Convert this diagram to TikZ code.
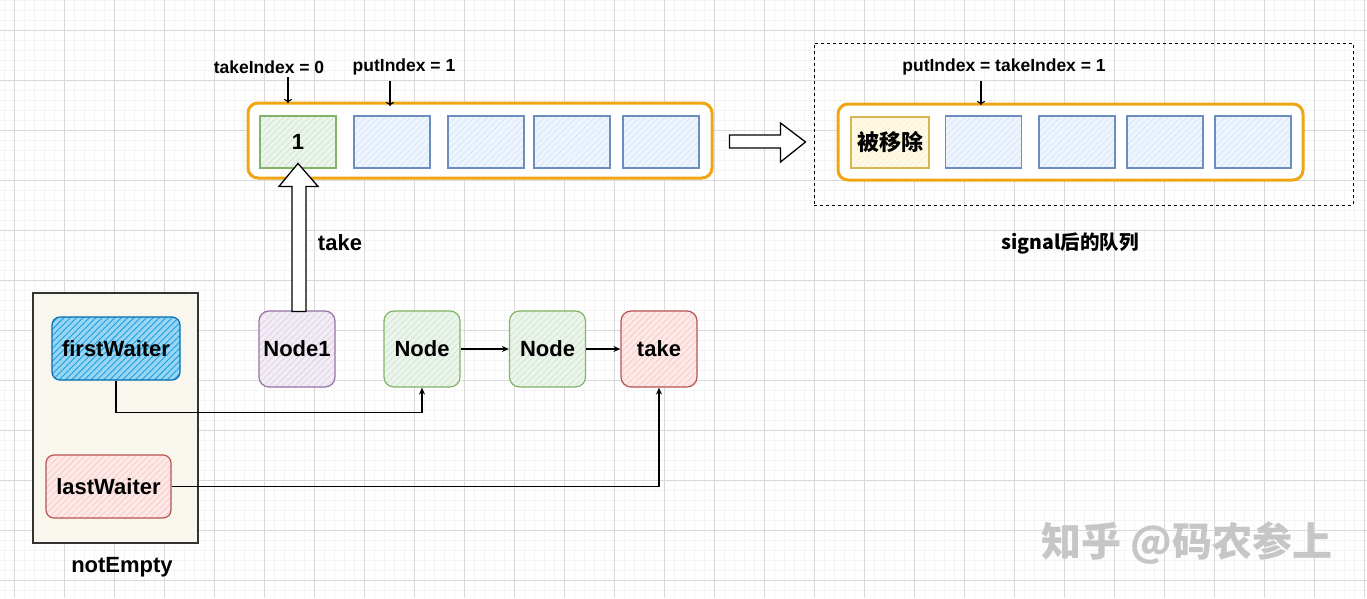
\documentclass[tikz,border=0pt]{standalone}
\usepackage{fontspec}
\setmainfont{Liberation Sans}
\newfontfamily\cjk{Noto Sans CJK SC}
\usetikzlibrary{calc,patterns.meta,arrows.meta}

\definecolor{qorange}{RGB}{240,166,20}
\definecolor{gfill}{HTML}{D5E8D4}
\definecolor{gline}{HTML}{82B366}
\definecolor{bfill}{HTML}{DAE8FC}
\definecolor{bline}{HTML}{6C8EBF}
\definecolor{yfill}{HTML}{FFF2CC}
\definecolor{yline}{HTML}{D6B656}
\definecolor{pfill}{HTML}{E1D5E7}
\definecolor{pline}{HTML}{9673A6}
\definecolor{rfill}{HTML}{F8CECC}
\definecolor{rline}{HTML}{B85450}
\definecolor{wfill}{HTML}{1BA1E2}
\definecolor{wline}{HTML}{006EAF}
\definecolor{nfill}{HTML}{F9F7ED}

\tikzset{
  hatch/.style 2 args={draw=#1, line width=1.2pt, preaction={fill=#2!45!white},
    pattern={Lines[angle=45,distance=4.5pt,line width=0.9pt]}, pattern color=#2},
  cell/.style={minimum width=76pt, minimum height=52pt, inner sep=0pt},
  listnode/.style={minimum width=76pt, minimum height=76pt, rounded corners=10pt, inner sep=0pt},
  waiter/.style={minimum height=63pt, rounded corners=8pt, inner sep=0pt},
  queue/.style={draw=qorange, line width=3pt, rounded corners=10pt, fill=white, inner sep=0pt},
  idxtext/.style={font=\bfseries\fontsize{17.5}{20}\selectfont, inner sep=0.75pt},
  boxtext/.style={font=\bfseries\fontsize{22}{26}\selectfont, inner sep=0.75pt},
  link/.style={line width=1.5pt, -{Stealth[length=7pt,width=6pt,open]}},
  pointer/.style={line width=1.2pt, -{To[length=4pt,width=8pt]}},
  blockarrow/.style={draw, line width=1.3pt, fill=white, line join=miter},
  minorgrid/.style={draw=gray!9, line width=0.6pt},
  majorgrid/.style={draw=gray!30, line width=0.8pt}
}

\begin{document}
\begin{tikzpicture}[x=1pt,y=1pt,yscale=-1,xscale=1]
\useasboundingbox (0,0) rectangle (1367,598);
\fill[white] (0,0) rectangle (1367,598);
% grid
\foreach \x in {4,14,...,1364} \draw[minorgrid] (\x,0) -- (\x,598);
\foreach \y in {0,10,...,590} \draw[minorgrid] (0,\y) -- (1367,\y);
\foreach \x in {14,64,...,1364} \draw[majorgrid] (\x,0) -- (\x,598);
\foreach \y in {30,80,...,580} \draw[majorgrid] (0,\y) -- (1367,\y);

% queue before signal
\node[queue, minimum width=464pt, minimum height=75pt] (qold) at (480,140.5) {};
\node[cell, hatch={gline}{gfill}, boxtext] (a0) at (298,142) {1};
\node[cell, hatch={bline}{bfill}] (a1) at (392,142) {};
\node[cell, hatch={bline}{bfill}] (a2) at (486,142) {};
\node[cell, hatch={bline}{bfill}] (a3) at (572,142) {};
\node[cell, hatch={bline}{bfill}] (a4) at (661,142) {};
% Text Node
\node[idxtext] (takeidx) at (269,67) {takeIndex = 0};
\coordinate (takept) at (288,103);
\draw[pointer] (takept |- takeidx.south) ++(0,3) -- (takept);
% Text Node
\node[idxtext] (putidx) at (404,67) {putIndex = 1};
\coordinate (putpt) at (390,106);
\draw[pointer] (putpt |- putidx.south) ++(0,5) -- (putpt);

% hollow arrow between the queues
\draw[blockarrow] ($(qold.east)+(16,-5.5)$) -- ($(qold.east)+(67,-5.5)$)
  -- ($(qold.east)+(67,-17.5)$) -- ($(qold.east)+(92,1.5)$)
  -- ($(qold.east)+(67,21.5)$) -- ($(qold.east)+(67,7.5)$)
  -- ($(qold.east)+(16,7.5)$) -- cycle;

% queue after signal
\node[draw, dashed, line width=1pt, minimum width=539pt, minimum height=162pt, inner sep=0pt] (after) at (1083.5,124) {};
\node[queue, minimum width=465pt, minimum height=76pt] (qnew) at (1070.5,142) {};
\node[cell, hatch={yline}{yfill}, minimum width=78pt, minimum height=51pt,
  font=\cjk\bfseries\fontsize{22}{26}\selectfont] (b0) at (890,142.5) {被移除};
\node[cell, hatch={bline}{bfill}] (b1) at (983.5,142) {};
\node[cell, hatch={bline}{bfill}] (b2) at (1077,142) {};
\node[cell, hatch={bline}{bfill}] (b3) at (1165,142) {};
\node[cell, hatch={bline}{bfill}] (b4) at (1253,142) {};
% Text Node
\node[idxtext] (bothidx) at (1004,67) {putIndex = takeIndex = 1};
\coordinate (bothpt) at (981,105);
\draw[pointer] (bothpt |- bothidx.south) ++(0,5) -- (bothpt);
% Text Node
\node[font=\cjk\bfseries\fontsize{19.5}{22}\selectfont, inner sep=0.75pt] (aftercap) at (1070,243) {signal后的队列};

% condition queue
\node[draw=black!80, line width=1.5pt, fill=nfill, minimum width=165pt, minimum height=250pt, inner sep=0pt] (cond) at (115.5,418) {};
\node[boxtext] (condcap) at (122,567) {notEmpty};
\node[waiter, hatch={wline}{wfill}, minimum width=128pt, boxtext] (first) at (116,348.5) {firstWaiter};
\node[waiter, hatch={rline}{rfill}, minimum width=125pt, boxtext] (last) at (108.5,486.5) {lastWaiter};

% waiter nodes
\node[listnode, hatch={pline}{pfill}, boxtext] (n1) at (297,349) {Node1};
\node[listnode, hatch={gline}{gfill}, boxtext] (n2) at (422,349) {Node};
\node[listnode, hatch={gline}{gfill}, boxtext] (n3) at (547.5,349) {Node};
\node[listnode, hatch={rline}{rfill}, boxtext] (n4) at (659,349) {take};

\draw[link] (n2) -- (n3);
\draw[link] (n3) -- (n4);
\draw[link] (first.south) -- ++(0,32) -| (n2.south);
\draw[link] (last.east) -| (n4.south);

% take arrow
\draw[blockarrow] ($(n1.north)+(-5,1)$) -- ($(n1.north)+(-5,-124)$)
  -- ($(n1.north)+(-18,-124)$) -- ($(a0.south)+(0,-5)$)
  -- ($(n1.north)+(21,-124)$) -- ($(n1.north)+(9,-124)$)
  -- ($(n1.north)+(9,1)$) -- cycle;
% Text Node
\node[boxtext] (takecap) at (340,243) {take};

% watermark
\node[font=\cjk\bfseries\fontsize{40}{44}\selectfont, text=gray!45, inner sep=0pt] (mark) at (1187,543) {知乎 @码农参上};
\end{tikzpicture}
\end{document}
